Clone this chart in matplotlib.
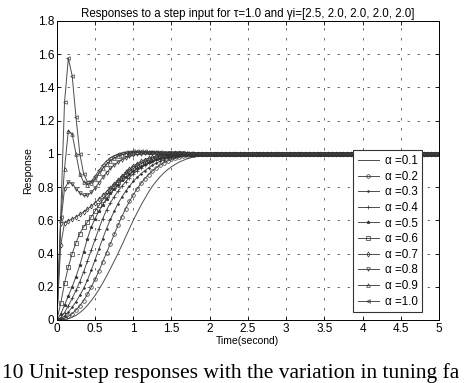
import matplotlib.pyplot as plt
import numpy as np
from matplotlib.ticker import FuncFormatter

# step responses sampled every 0.05 s; after the listed values every curve sits at 1.0
t = np.linspace(0, 5, 101)

y_a01 = [0, 0, .003, .008, .016, .028, .044, .064, .088, .116, .148, .183, .222, .264, .308, .354,
         .40, .45, .50, .55, .60, .645, .69, .73, .77, .805, .835, .862, .885, .905, .922, .937, .95,
         .96, .969, .976, .982, .987, .99, .993, .995, .996, .997, .998, .999, .999]
y_a02 = [0, .003, .01, .022, .038, .06, .086, .117, .155, .198, .245, .295, .35, .405, .46, .515,
         .57, .622, .67, .714, .754, .79, .822, .85, .875, .897, .916, .932, .946, .957, .966, .974,
         .98, .985, .989, .992, .994, .996, .997, .998, .999]
y_a03 = [0, .008, .025, .048, .077, .11, .148, .19, .24, .30, .362, .427, .49, .55, .605, .655,
         .70, .74, .775, .806, .834, .858, .88, .899, .916, .931, .944, .955, .964, .972, .978, .983,
         .987, .99, .993, .995, .997, .998, .999]
y_a04 = [0, .015, .045, .085, .13, .178, .23, .29, .355, .42, .485, .55, .61, .662, .705, .742,
         .775, .805, .832, .857, .879, .898, .915, .93, .943, .954, .964, .972, .979, .984, .988,
         .991, .994, .996, .998, .999]
y_a05 = [0, .035, .09, .145, .20, .26, .33, .41, .49, .56, .61, .655, .695, .73, .762, .79, .815,
         .84, .861, .88, .897, .912, .926, .938, .949, .958, .966, .973, .979, .984, .988, .991,
         .994, .996, .998, .999]
y_a06 = [0, .10, .22, .32, .40, .465, .52, .56, .59, .62, .655, .69, .722, .752, .781, .808, .833,
         .856, .877, .896, .912, .927, .94, .951, .961, .969, .976, .982, .987, .991, .994, .996,
         .998, .999]
y_a07 = [0, .45, .585, .597, .607, .62, .635, .65, .667, .685, .705, .727, .75, .773, .797, .82,
         .842, .866, .888, .908, .926, .941, .954, .965, .974, .981, .987, .992, .996, .999, 1.001,
         1.002, 1.002, 1.001, 1.001]
y_a08 = [0, .58, .79, .83, .82, .79, .765, .75, .752, .768, .795, .827, .858, .887, .912, .933,
         .95, .964, .975, .984, .991, .996, 1.0, 1.003, 1.005, 1.006, 1.006, 1.006, 1.005, 1.004,
         1.003, 1.003, 1.002, 1.002, 1.001, 1.001]
y_a09 = [0, .60, .91, 1.14, 1.12, 1.0, .88, .83, .815, .825, .85, .882, .912, .938, .958, .974,
         .986, .995, 1.001, 1.006, 1.009, 1.011, 1.011, 1.011, 1.01, 1.009, 1.008, 1.007, 1.006,
         1.005, 1.004, 1.003, 1.003, 1.002, 1.002, 1.001, 1.001]
y_a10 = [0, .62, 1.31, 1.575, 1.47, 1.22, 1.0, .88, .83, .835, .865, .90, .932, .957, .975, .988,
         .997, 1.004, 1.009, 1.012, 1.014, 1.015, 1.015, 1.014, 1.013, 1.011, 1.01, 1.009, 1.007,
         1.006, 1.005, 1.004, 1.003, 1.003, 1.002, 1.002, 1.001, 1.001]

curves = [y_a01, y_a02, y_a03, y_a04, y_a05, y_a06, y_a07, y_a08, y_a09, y_a10]
labels = ["α =0.1", "α =0.2", "α =0.3", "α =0.4", "α =0.5",
          "α =0.6", "α =0.7", "α =0.8", "α =0.9", "α =1.0"]
markers = [None, "o", ".", "+", "*", "s", "d", "v", "^", "<"]

plt.rcParams['font.family'] = ['Liberation Sans', 'DejaVu Sans']

fig = plt.figure(figsize=(4.74, 3.83), dpi=100)
ax = fig.add_axes([0.12, 0.1645, 0.806, 0.781])

for y, lab, m in zip(curves, labels, markers):
    yy = list(y) + [1.0] * (len(t) - len(y))
    ax.plot(t, yy, color="0.3", lw=0.7, marker=m, markersize=2.6 if m != "." else 2.5,
            markerfacecolor="none" if m not in (".", "*") else "0.2",
            markeredgecolor="0.2", markeredgewidth=0.5, label=lab)

ax.set_xlim(0, 5)
ax.set_ylim(0, 1.8)
ax.set_xticks(np.arange(0, 5.01, 0.5))
ax.set_yticks(np.arange(0, 1.81, 0.2))
fmt = FuncFormatter(lambda v, p: "%g" % round(v, 2))
ax.xaxis.set_major_formatter(fmt)
ax.yaxis.set_major_formatter(fmt)
ax.tick_params(direction="in", top=True, right=True, length=3, width=0.6, labelsize=8.5, pad=2)
ax.grid(True, color="0.35", lw=0.6, linestyle=(0, (3, 9)))
for s in ax.spines.values():
    s.set_linewidth(0.7)

ax.set_title("Responses to a step input for τ=1.0 and γi=[2.5, 2.0, 2.0, 2.0, 2.0]",
             fontsize=8.3, pad=3)
ax.set_xlabel("Time(second)", fontsize=7.5, labelpad=1)
ax.set_ylabel("Response", fontsize=7.5, labelpad=3)

leg = ax.legend(loc="lower right", bbox_to_anchor=(0.962, 0.018), fontsize=8.4,
                labelspacing=0.31, handlelength=1.8, handletextpad=0.5,
                borderpad=0.4, borderaxespad=0.2, fancybox=False, framealpha=1,
                edgecolor="0.2")
leg.get_frame().set_linewidth(0.8)

fig.text(0.004, 0.013, "10 Unit-step responses with the variation in tuning fa",
         family=["Liberation Serif", "DejaVu Serif"], fontsize=15.5, ha="left", va="baseline")

fig.savefig("out.png", dpi=100)
